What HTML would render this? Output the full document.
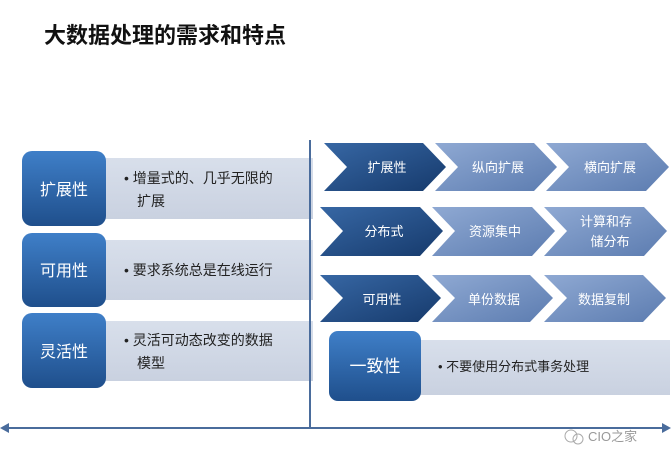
<!DOCTYPE html>
<html><head><meta charset="utf-8"><style>
body{margin:0;width:671px;height:468px;background:#fff;overflow:hidden}
svg{display:block}
text{font-family:"Liberation Sans","Noto Sans CJK SC",sans-serif}
</style></head><body>
<svg width="671" height="468" viewBox="0 0 671 468">
<defs>
<linearGradient id="bl" x1="0" y1="0" x2="0" y2="1"><stop offset="0" stop-color="#3f7fc8"/><stop offset="1" stop-color="#1f4f8c"/></linearGradient>
<linearGradient id="gr" x1="0" y1="0" x2="0" y2="1"><stop offset="0" stop-color="#d8dfeb"/><stop offset="1" stop-color="#c9d1e0"/></linearGradient>
<linearGradient id="dk" x1="0" y1="0" x2="1" y2="1"><stop offset="0" stop-color="#3767a4"/><stop offset="1" stop-color="#163a6c"/></linearGradient>
<linearGradient id="lt" x1="0" y1="0" x2="1" y2="1"><stop offset="0" stop-color="#8fa9d3"/><stop offset="1" stop-color="#5c7cb0"/></linearGradient>
</defs>
<text x="44" y="43" font-size="22" font-weight="bold" fill="#111">大数据处理的需求和特点</text>

<g font-size="14" fill="#222">
<rect x="100" y="158" width="213" height="61" fill="url(#gr)"/>
<rect x="100" y="240" width="213" height="60" fill="url(#gr)"/>
<rect x="100" y="321" width="213" height="60" fill="url(#gr)"/>
<text x="124" y="183">• 增量式的、几乎无限的</text>
<text x="137" y="206">扩展</text>
<text x="124" y="275">• 要求系统总是在线运行</text>
<text x="124" y="345">• 灵活可动态改变的数据</text>
<text x="137" y="368">模型</text>
</g>
<g font-size="16" fill="#fff">
<rect x="22" y="151" width="84" height="75" rx="10" fill="url(#bl)"/>
<rect x="22" y="233" width="84" height="74" rx="10" fill="url(#bl)"/>
<rect x="22" y="313" width="84" height="75" rx="10" fill="url(#bl)"/>
<text x="64" y="195" text-anchor="middle">扩展性</text>
<text x="64" y="276" text-anchor="middle">可用性</text>
<text x="64" y="357" text-anchor="middle">灵活性</text>
</g>

<line x1="310" y1="140" x2="310" y2="428" stroke="#4a6c9c" stroke-width="2"/>
<line x1="4" y1="428" x2="667" y2="428" stroke="#4a6c9c" stroke-width="2"/>
<polygon points="0,428 9,423 9,433" fill="#4a6c9c"/>
<polygon points="671,428 662,423 662,433" fill="#4a6c9c"/>

<g font-size="13" fill="#fff" text-anchor="middle">
<!-- row1 -->
<polygon points="324,143 423,143 446,167 423,191 324,191 347,167" fill="url(#dk)"/>
<polygon points="435,143 534,143 557,167 534,191 435,191 458,167" fill="url(#lt)"/>
<polygon points="546,143 646,143 669,167 646,191 546,191 569,167" fill="url(#lt)"/>
<text x="387" y="172">扩展性</text><text x="498" y="172">纵向扩展</text><text x="610" y="172">横向扩展</text>
<!-- row2 -->
<polygon points="320,207 420,207 443,231 420,256 320,256 343,231" fill="url(#dk)"/>
<polygon points="432,207 532,207 555,231 532,256 432,256 455,231" fill="url(#lt)"/>
<polygon points="544,207 644,207 667,231 644,256 544,256 567,231" fill="url(#lt)"/>
<text x="384" y="236">分布式</text><text x="495" y="236">资源集中</text>
<text x="606" y="226">计算和存</text><text x="610" y="246">储分布</text>
<!-- row3 -->
<polygon points="320,275 418,275 441,298 418,322 320,322 343,298" fill="url(#dk)"/>
<polygon points="432,275 530,275 553,298 530,322 432,322 455,298" fill="url(#lt)"/>
<polygon points="544,275 643,275 666,298 643,322 544,322 567,298" fill="url(#lt)"/>
<text x="382" y="304">可用性</text><text x="494" y="304">单份数据</text><text x="604" y="304">数据复制</text>
</g>
<rect x="415" y="340" width="255" height="55" fill="url(#gr)"/>
<text x="438" y="371" font-size="13" fill="#222">• 不要使用分布式事务处理</text>
<rect x="329" y="331" width="92" height="70" rx="9" fill="url(#bl)"/>
<text x="375" y="372" font-size="17" fill="#fff" text-anchor="middle">一致性</text>

<text x="588" y="441" font-size="13" fill="#999">CIO之家</text>
<circle cx="571" cy="436" r="6" fill="none" stroke="#aaa"/>
<circle cx="578" cy="439" r="5" fill="none" stroke="#aaa"/>
</svg>
</body></html>
